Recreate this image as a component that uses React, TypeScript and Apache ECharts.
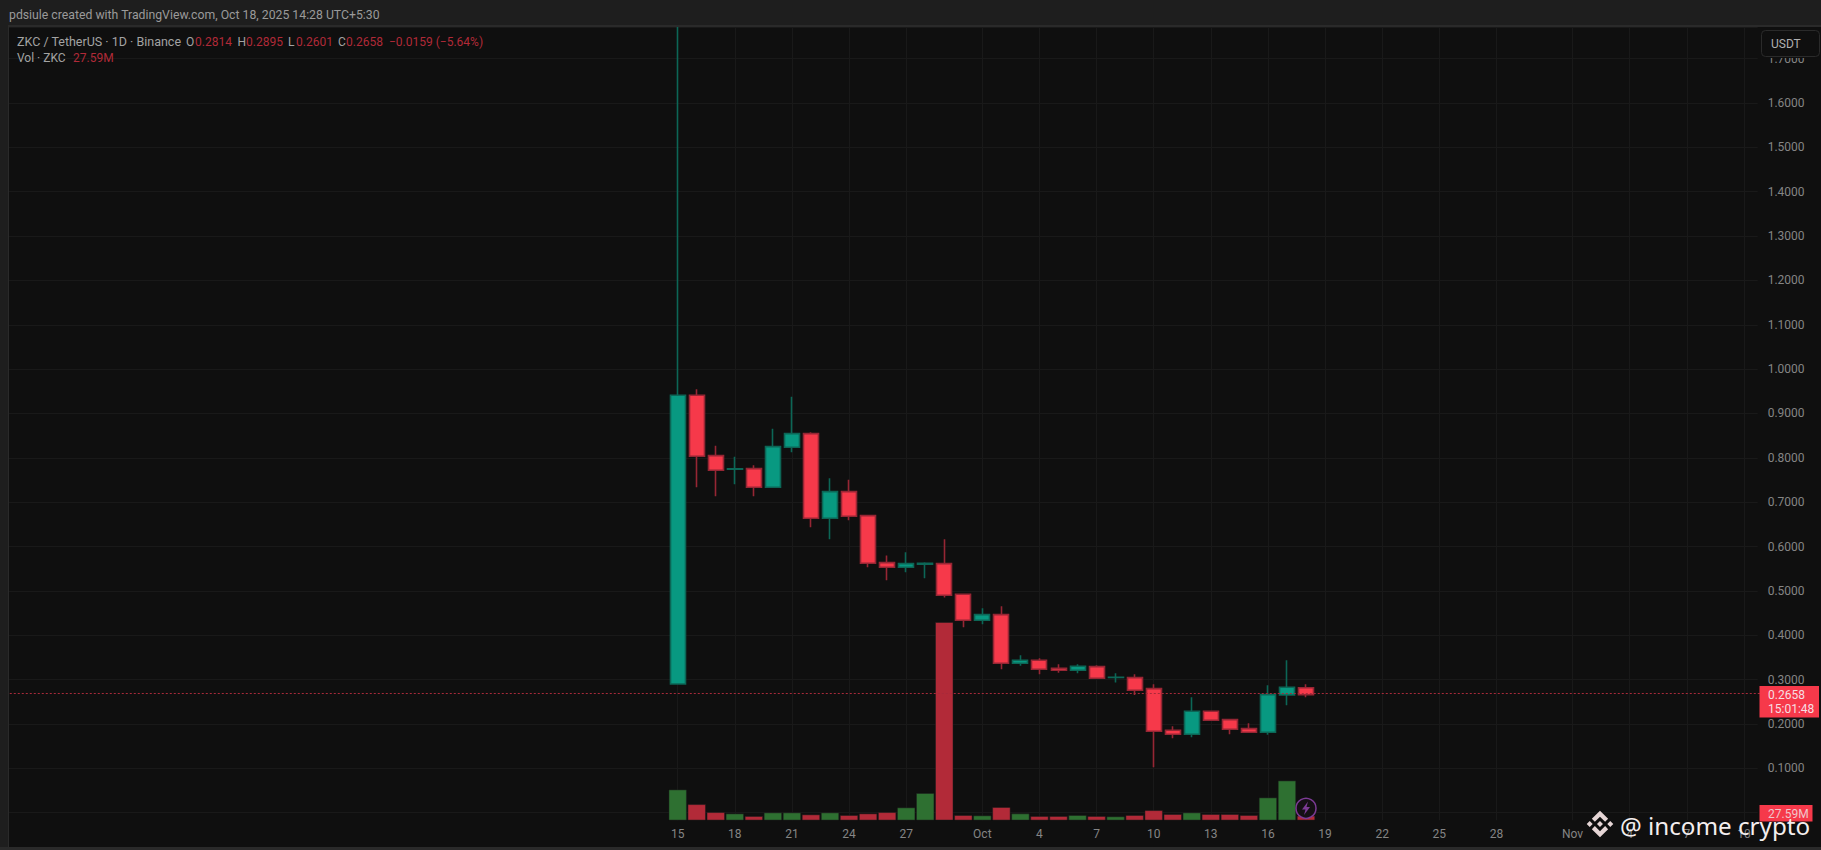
import React, { useEffect, useRef } from "react";
import * as echarts from "echarts";

// daily candles: [open, close, low, high], Sep 15 .. Oct 18 2025
const candleDates = [
  "09-15","09-16","09-17","09-18","09-19","09-20","09-21","09-22","09-23","09-24","09-25","09-26","09-27","09-28","09-29","09-30",
  "10-01","10-02","10-03","10-04","10-05","10-06","10-07","10-08","10-09","10-10","10-11","10-12","10-13","10-14","10-15","10-16","10-17","10-18",
];
const candles = [
  [0.29, 0.941, 0.29, 2.4],
  [0.941, 0.8034, 0.7335, 0.9545],
  [0.8049, 0.7719, 0.7132, 0.8275],
  [0.7745, 0.7752, 0.7403, 0.8027],
  [0.7756, 0.7335, 0.7132, 0.7831],
  [0.7335, 0.8252, 0.7335, 0.8658],
  [0.8237, 0.8545, 0.8125, 0.938],
  [0.8545, 0.6636, 0.6433, 0.8576],
  [0.6636, 0.7238, 0.6163, 0.7538],
  [0.7238, 0.6681, 0.6591, 0.7508],
  [0.6697, 0.5622, 0.5532, 0.6697],
  [0.5637, 0.5532, 0.5238, 0.5795],
  [0.5532, 0.5614, 0.5419, 0.587],
  [0.5599, 0.5622, 0.5284, 0.5644],
  [0.5614, 0.49, 0.4848, 0.6163],
  [0.4923, 0.4337, 0.4179, 0.4923],
  [0.4337, 0.4464, 0.4246, 0.4607],
  [0.4464, 0.3367, 0.3231, 0.4652],
  [0.3367, 0.3434, 0.3314, 0.3547],
  [0.3434, 0.3231, 0.3119, 0.3479],
  [0.3254, 0.3209, 0.3156, 0.3344],
  [0.3209, 0.3299, 0.3141, 0.3344],
  [0.3291, 0.3028, 0.3028, 0.3322],
  [0.3045, 0.3051, 0.2931, 0.3141],
  [0.3043, 0.2758, 0.2653, 0.3119],
  [0.2795, 0.1833, 0.1022, 0.2893],
  [0.1856, 0.1766, 0.1675, 0.1946],
  [0.1766, 0.2284, 0.1698, 0.26],
  [0.2284, 0.2081, 0.2081, 0.2284],
  [0.2096, 0.1878, 0.1766, 0.2096],
  [0.1893, 0.1811, 0.1811, 0.2014],
  [0.1811, 0.266, 0.1758, 0.2871],
  [0.2653, 0.2825, 0.242, 0.3434],
  [0.2814, 0.2658, 0.2601, 0.2895],
];
// volume in millions
const volumes = [188, 98, 49, 41, 25, 47, 47, 35, 47, 31, 41, 49, 78, 166, 1214, 31, 29, 80, 41, 25, 25, 31, 25, 23, 31, 61, 37, 47, 37, 37, 31, 139, 243, 27.59];

// time axis
const axisStart = "2025-08-11";
const axisDays = 93;
const dateTicks: [string, string][] = [
  ["09-15","15"],["09-18","18"],["09-21","21"],["09-24","24"],["09-27","27"],["10-01","Oct"],["10-04","4"],["10-07","7"],["10-10","10"],["10-13","13"],["10-16","16"],["10-19","19"],["10-22","22"],["10-25","25"],["10-28","28"],["11-01","Nov"],["11-04","4"],["11-07","7"],["11-10","10"],
];
const lastPrice = 0.2658;
const priceMin = 0;
const priceMax = 1.7715;
const priceStep = 0.1;
const volumeMax = 4863;

const headerText = "pdsiule created with TradingView.com, Oct 18, 2025 14:28 UTC+5:30";
const symbolText = "ZKC / TetherUS · 1D · Binance";
const ohlcLetters = ["O", "H", "L", "C"];
const ohlcValues = ["0.2814", "0.2895", "0.2601", "0.2658"];
const changeText = "−0.0159 (−5.64%)";
const volName = "Vol · ZKC";
const volValue = "27.59M";
const countdown = "15:01:48";
const watermark = "@ income crypto";

const BINANCE =
  "M16.624 13.9202l2.7175 2.7154-7.353 7.353-7.353-7.352 2.7175-2.7164 4.6355 4.6595 4.6356-4.6595zm4.6366-4.6366L24 12l-2.7154 2.7164L18.5682 12l2.6924-2.7164zm-9.272.001l2.7163 2.6914-2.7164 2.7174v-.001L9.2721 12l2.7164-2.7154zm-9.2722-.001L5.4088 12l-2.6914 2.6924L0 12l2.7164-2.7164zM11.9885.0115l7.353 7.329-2.7174 2.7154-4.6356-4.6356-4.6355 4.6595-2.7174-2.7154 7.353-7.353z";
echarts.graphic.registerShape("binanceLogo", echarts.graphic.extendPath(BINANCE, {}) as any);

const FONT = "Roboto, 'Noto Sans', sans-serif";
const UP = "#089981";
const DOWN = "#f6394a";
const UP_EDGE = "#0c6656";
const DOWN_EDGE = "#962634";
const VOL_UP = "#2e7031";
const VOL_DOWN = "#b22a38";
const GRID = "#191919";
const FRAME = "#1e1e1e";
const FRAME_EDGE = "#2a2a2a";
const LABEL = "#858585";
const TEXT = "#a3a3a3";
const RED_TEXT = "#b12a38";

const BAND = 19.04;
const GRID_LEFT = 1.78;
const PLOT_RIGHT = 1757.7;
const TOP = 27;
const PRICE_ZERO_Y = 812.6;
const VOL_ZERO_Y = 820.3;

function buildCategories(): string[] {
  const out: string[] = [];
  const d = new Date(axisStart + "T00:00:00Z");
  for (let i = 0; i < axisDays; i++) {
    out.push(d.toISOString().slice(5, 10));
    d.setUTCDate(d.getUTCDate() + 1);
  }
  return out;
}

export default function App() {
  const ref = useRef<HTMLDivElement>(null);
  useEffect(() => {
    const chart = echarts.init(ref.current!, null, { renderer: "svg" });
    const categories = buildCategories();
    const tickMap = new Map(dateTicks);
    const isTick = (_: number, v: string) => tickMap.has(v);
    const isUp = (i: number) => candles[i][1] >= candles[i][0];

    const txt = (text: string, x: number, y: number, fill: string, fontSize = 12, extra: any = {}) => ({
      type: "text",
      z: 120,
      x,
      y,
      style: { text, fill, font: `${fontSize}px ${FONT}`, textVerticalAlign: "middle", verticalAlign: "middle", ...extra },
    });
    const box = (x: number, y: number, w: number, h: number, fill: string, z = 100, extra: any = {}) => ({
      type: "rect",
      z,
      shape: { x, y, width: w, height: h, ...(extra.r ? { r: extra.r } : {}) },
      style: { fill, stroke: extra.stroke, lineWidth: extra.stroke ? 1 : 0 },
      silent: true,
    });

    const ohlcX = [186, 237.5, 288, 338];
    const ohlcValX = [195, 246, 296, 346];

    chart.setOption({
      animation: false,
      backgroundColor: "#0f0f0f",
      grid: [
        { left: 9, width: PLOT_RIGHT - 9, top: TOP, height: PRICE_ZERO_Y - TOP },
        { left: GRID_LEFT, width: BAND * axisDays, top: TOP, height: VOL_ZERO_Y - TOP },
        { left: GRID_LEFT, width: BAND * axisDays, top: TOP, height: PRICE_ZERO_Y - TOP },
      ],
      xAxis: [
        { gridIndex: 0, type: "value", show: false, min: 0, max: 1 },
        {
          gridIndex: 1,
          type: "category",
          data: categories,
          boundaryGap: true,
          axisLine: { show: false },
          axisTick: { show: false },
          axisLabel: {
            interval: isTick,
            formatter: (v: string) => tickMap.get(v) ?? "",
            color: LABEL,
            fontFamily: FONT,
            fontSize: 12,
            margin: 8,
            hideOverlap: false,
          },
          splitLine: { show: true, interval: isTick, alignWithLabel: true, lineStyle: { color: GRID, width: 1 } },
        },
        { gridIndex: 2, type: "category", data: categories, boundaryGap: true, show: false },
      ],
      yAxis: [
        {
          gridIndex: 0,
          type: "value",
          position: "right",
          min: priceMin,
          max: priceMax,
          interval: priceStep,
          axisLine: { show: false },
          axisTick: { show: false },
          axisLabel: {
            color: LABEL,
            fontFamily: FONT,
            fontSize: 12,
            margin: 10,
            align: "left",
            showMinLabel: false,
            showMaxLabel: false,
            formatter: (v: number) => v.toFixed(4),
          },
          splitLine: { show: true, lineStyle: { color: GRID, width: 1 } },
        },
        { gridIndex: 1, type: "value", show: false, min: 0, max: volumeMax, splitLine: { show: false } },
        { gridIndex: 2, type: "value", show: false, min: priceMin, max: priceMax, splitLine: { show: false } },
      ],
      series: [
        {
          name: "Vol",
          type: "bar",
          xAxisIndex: 1,
          yAxisIndex: 1,
          barWidth: 18,
          data: volumes.map((v, i) => [categories.indexOf(candleDates[i]), v]),
          itemStyle: {
            color: (p: any) => (isUp(p.dataIndex) ? VOL_UP : VOL_DOWN),
            borderColor: "#1c1c1c",
            borderWidth: 0.5,
          },
          silent: true,
        },
        {
          name: "ZKC",
          type: "candlestick",
          xAxisIndex: 2,
          yAxisIndex: 2,
          barWidth: 15.5,
          encode: { x: 0, y: [1, 2, 3, 4] },
          data: candles.map((c, i) => [categories.indexOf(candleDates[i]), ...c]),
          itemStyle: {
            color: UP,
            color0: DOWN,
            borderColor: UP_EDGE,
            borderColor0: DOWN_EDGE,
            borderWidth: 1.6,
          },
          markLine: {
            silent: true,
            symbol: "none",
            label: { show: false },
            emphasis: { disabled: true },
            lineStyle: { color: "#a82a3a", type: [2, 2], width: 1.2, opacity: 1 },
            data: [{ yAxis: lastPrice }],
          },
          silent: true,
        },
      ],
      graphic: [
        // frame
        box(0, 0, 1821, 25, FRAME),
        box(0, 25, 1821, 2, FRAME_EDGE),
        box(0, 0, 8, 850, FRAME),
        box(8, 25, 1, 825, FRAME_EDGE),
        box(0, 847, 1821, 3, FRAME_EDGE),
        // header
        txt(headerText, 9, 14.5, "#9a9a9a", 12.25),
        txt(symbolText, 17, 41.5, TEXT, 12.5),
        ...ohlcLetters.map((s, i) => txt(s, ohlcX[i], 41.5, TEXT, 12)),
        ...ohlcValues.map((s, i) => txt(s, ohlcValX[i], 41.5, RED_TEXT, 12)),
        txt(changeText, 389, 41.5, RED_TEXT, 12),
        txt(volName, 17, 58, TEXT, 12),
        txt(volValue, 73, 58, RED_TEXT, 12),
        // currency button
        box(1760, 27, 61, 31, "#0f0f0f", 105),
        box(1761.5, 30.5, 58, 26, "#0f0f0f", 110, { stroke: FRAME_EDGE, r: 4 }),
        txt("USDT", 1771, 43.5, "#b0b0b0", 12),
        // price tags
        box(1759.5, 686, 59.5, 31.5, DOWN, 110),
        txt(lastPrice.toFixed(4), 1768, 695, "#f7dfe2", 12),
        txt(countdown, 1768, 709, "#f7dfe2", 12),
        box(1759.5, 805, 53, 16.5, DOWN, 110),
        txt(volValue, 1768, 813.5, "#f0c6cb", 12),
        // lightning marker
        { type: "circle", z: 115, shape: { cx: 1306, cy: 808.3, r: 10 }, style: { fill: "#141014", stroke: "#7c3b95", lineWidth: 1.5 } },
        {
          type: "polygon",
          z: 116,
          shape: { points: [[1308, 801.5], [1302, 809.5], [1305.5, 809.5], [1304, 815], [1310, 807], [1306.5, 807]] },
          style: { fill: "#7c3b95" },
        },
        // watermark
        { type: "binanceLogo", z: 130, x: 1586.7, y: 810.7, scaleX: 1.108, scaleY: 1.108, style: { fill: "#e6d6d6" } },
        txt(watermark, 1620, 825, "#f4eeee", 24.2, { font: `24.2px 'Noto Sans', sans-serif` }),
      ],
    });
    return () => chart.dispose();
  }, []);
  return <div ref={ref} style={{ position: "fixed", left: 0, top: 0, width: 1821, height: 850 }} />;
}
